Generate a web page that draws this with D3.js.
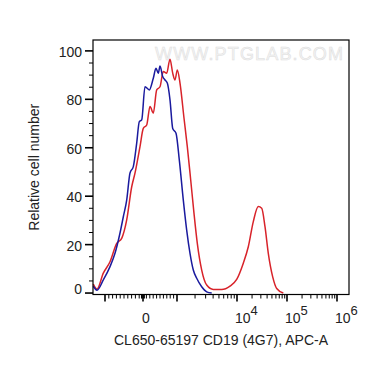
<!DOCTYPE html>
<html>
<head>
<meta charset="utf-8">
<script src="https://cdn.jsdelivr.net/npm/d3@7"></script>
<style>
  body { margin: 0; background: #fff; }
  svg { font-family: "Liberation Sans", Arial, sans-serif; }
</style>
</head>
<body>
<div id="chart"></div>
<script>
// Fluorescence intensity (APC-A) and relative cell number
const isoX = [-1567, -1359, -1067, -868, -737, -605, -518, -429, -342, -255, -166, -97, -34, 59, 185, 303, 382, 450, 500, 579, 647, 715, 794, 874, 971, 1092, 1274, 1450, 1647, 1870, 2130, 2580, 3126, 3787];
const isoY = [2.8, 1.2, 5.4, 10.9, 16.4, 24.8, 31.5, 38.4, 49.6, 52.2, 61.9, 70.8, 71.5, 85.2, 83.9, 88.7, 92.8, 90.8, 93.8, 89.4, 88, 86.7, 79.8, 68, 66, 55, 38.4, 26, 16.4, 9.5, 6.1, 2.6, 0.5, 0];

const cd19X = [-1567, -1359, -1067, -868, -692, -561, -429, -297, -211, -79, 9, 109, 206, 303, 403, 500, 597, 697, 794, 874, 941, 1012, 1122, 1309, 1485, 1692, 1920, 2180, 2580, 3126, 4027, 5559, 7644, 9886, 13366, 16827, 21184, 26669, 31189, 36308, 42267, 51761, 62230, 84333];
const cd19Y = [3.7, 1.6, 8.2, 12.9, 20.5, 22.6, 30.2, 43.9, 49.5, 60.5, 68, 69.4, 77, 74.3, 83.9, 85.2, 91.5, 90.8, 96.6, 90.8, 88, 92.1, 86.7, 72.2, 60.5, 46.7, 32.9, 20.5, 9.5, 3.3, 1.5, 1.5, 2.9, 5.6, 12.3, 19.1, 29.5, 35.7, 35, 27.4, 16.4, 6.7, 1.9, 0];

const yMajor = [0, 20, 40, 60, 80, 100];
const xMajor = [-1000, 0, 1000, 1e4, 1e5, 1e6];
const xLabels = [
  { v: 0, base: "0", sup: "" },
  { v: 1e4, base: "10", sup: "4" },
  { v: 1e5, base: "10", sup: "5" },
  { v: 1e6, base: "10", sup: "6" }
];

const width = 370, height = 365;
const plot = { left: 93, right: 349, top: 40, bottom: 294.5 };

const svg = d3.select("#chart").append("svg")
  .attr("width", width)
  .attr("height", height);

// biexponential-like display: linear around zero, log above |1000|
const xLin = d3.scaleLinear().domain([-1000, 0, 1000]).range([105, 143, 177]);
const xLog = d3.scaleLinear().domain([3, 4, 5, 6]).range([177, 237, 287, 337]);
const xNeg = d3.scaleLinear().domain([3, 4]).range([105, 45]);
function x(v) {
  if (Math.abs(v) <= 1000) return xLin(v);
  if (v > 0) return xLog(Math.log10(v));
  return xNeg(Math.log10(-v));
}

const y = d3.scaleLinear().domain([-0.6, 104.5]).range([plot.bottom, plot.top]);

// watermark
svg.append("text")
  .attr("x", 155)
  .attr("y", 60)
  .attr("textLength", 188)
  .attr("lengthAdjust", "spacing")
  .style("font-size", "18px")
  .style("fill", "#f4f4f4")
  .style("stroke", "#dcdcdc")
  .style("stroke-width", 0.5)
  .text("WWW.PTGLAB.COM");

// histograms
const line = d3.line()
  .x((d) => x(d[0]))
  .y((d) => y(d[1]))
  .curve(d3.curveMonotoneX);

svg.append("path")
  .datum(d3.zip(cd19X, cd19Y))
  .attr("d", line)
  .style("fill", "none")
  .style("stroke", "#d8232a")
  .style("stroke-width", 1.5);

svg.append("path")
  .datum(d3.zip(isoX, isoY))
  .attr("d", line)
  .style("fill", "none")
  .style("stroke", "#1a1a9e")
  .style("stroke-width", 1.5);

// frame
svg.append("rect")
  .attr("x", plot.left)
  .attr("y", plot.top)
  .attr("width", plot.right - plot.left)
  .attr("height", plot.bottom - plot.top)
  .style("fill", "none")
  .style("stroke", "#000")
  .style("stroke-width", 1.2);

// y ticks
const yMinor = d3.range(0, 101, 5).filter((v) => v % 20 !== 0);
svg.append("g").selectAll("line")
  .data(yMinor)
  .join("line")
  .attr("x1", plot.left - 4).attr("x2", plot.left)
  .attr("y1", (d) => y(d)).attr("y2", (d) => y(d))
  .style("stroke", "#000");
svg.append("g").selectAll("line")
  .data(yMajor)
  .join("line")
  .attr("x1", plot.left - 8).attr("x2", plot.left)
  .attr("y1", (d) => y(d)).attr("y2", (d) => y(d))
  .style("stroke", "#000")
  .style("stroke-width", 1.6);
svg.append("g").selectAll("text")
  .data(yMajor)
  .join("text")
  .attr("x", 82)
  .attr("y", (d) => (d === 0 ? y(d) - 4 : y(d) + 1))
  .attr("dy", "0.36em")
  .style("text-anchor", "end")
  .style("font-size", "14px")
  .style("fill", "#222")
  .text((d) => d);

// x ticks
let xMinor = d3.range(-900, 1000, 100).filter((v) => v !== 0);
xMinor = xMinor.concat([-40, -20, 20, 40]);
[3, 4, 5].forEach((d) => {
  for (let k = 2; k <= 9; k++) xMinor.push(k * Math.pow(10, d));
});
svg.append("g").selectAll("line")
  .data(xMinor)
  .join("line")
  .attr("x1", (d) => x(d)).attr("x2", (d) => x(d))
  .attr("y1", plot.bottom).attr("y2", plot.bottom + 4)
  .style("stroke", "#000");
svg.append("g").selectAll("line")
  .data(xMajor)
  .join("line")
  .attr("x1", (d) => x(d)).attr("x2", (d) => x(d))
  .attr("y1", plot.bottom).attr("y2", plot.bottom + 7)
  .style("stroke", "#000")
  .style("stroke-width", 1.6);

const lab = svg.append("g").selectAll("text")
  .data(xLabels)
  .join("text")
  .attr("x", (d) => (d.sup ? x(d.v) - 2 : x(d.v) + 3))
  .attr("y", 322.5)
  .style("text-anchor", (d) => (d.sup ? "start" : "middle"))
  .style("font-size", "14px")
  .style("fill", "#222");
lab.append("tspan").text((d) => d.base);
lab.append("tspan")
  .attr("dy", -8)
  .style("font-size", "13px")
  .text((d) => d.sup);

// axis titles
svg.append("text")
  .attr("x", (plot.left + plot.right) / 2)
  .attr("y", 345)
  .style("text-anchor", "middle")
  .style("font-size", "14px")
  .style("fill", "#222")
  .text("CL650-65197 CD19 (4G7), APC-A");

svg.append("text")
  .attr("transform", `translate(34,${(plot.top + plot.bottom) / 2}) rotate(-90)`)
  .attr("dy", "0.36em")
  .style("text-anchor", "middle")
  .style("font-size", "14px")
  .style("fill", "#222")
  .text("Relative cell number");
</script>
</body>
</html>
